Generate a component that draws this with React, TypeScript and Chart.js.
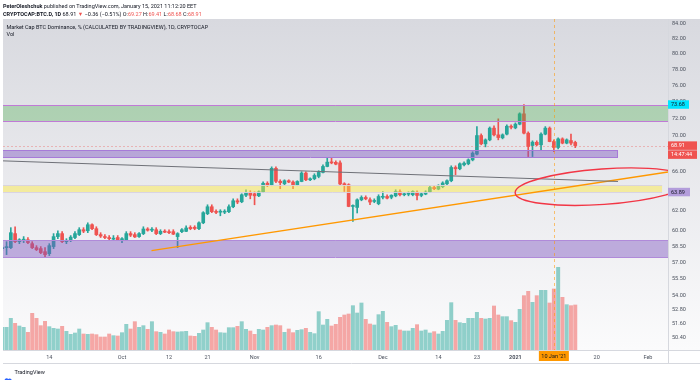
import React, { useEffect, useRef } from "react";
import { Chart, registerables } from "chart.js";

Chart.register(...registerables);

// Daily candles of BTC dominance (%), index 0 = 3 Sep 2020, last = 15 Jan 2021
const opens = [
  58.27, 58.36, 58.36, 59.71, 58.93, 59.03, 59.12, 58.74, 58.36, 58.27,
  57.98, 57.79, 58.46, 59.42, 59.71, 58.93, 59.03, 59.33, 59.61, 60.09,
  59.99, 60.58, 60.19, 59.61, 59.42, 59.33, 59.17, 59.33, 59.07, 59.12,
  59.71, 59.61, 59.42, 59.71, 60.16, 60.04, 60.09, 59.71, 59.95, 59.9,
  59.9, 59.42, 59.9, 59.93, 60.32, 60.33, 60.19, 60.77, 61.68, 62.38,
  61.88, 61.83, 61.83, 61.88, 62.38, 62.99, 62.89, 63.56, 63.82, 63.71,
  63.5, 63.92, 64.81, 64.66, 66.41, 65.02, 64.76, 65.08, 64.94, 64.66,
  65.0, 65.9, 65.18, 65.29, 65.54, 65.97, 66.61, 67.08, 67.06, 67.0,
  64.74, 64.66, 62.41, 62.31, 63.09, 63.33, 63.09, 62.92, 62.69, 63.35,
  63.43, 63.35, 63.5, 63.92, 63.61, 63.66, 63.61, 63.87, 63.54, 63.68,
  63.92, 64.37, 64.2, 64.45, 64.76, 65.08, 66.5, 66.36, 66.79, 66.9,
  67.33, 67.96, 70.05, 69.11, 69.56, 70.9, 70.13, 69.79, 70.21, 71.12,
  70.93, 71.36, 72.57, 70.32, 68.92, 69.28, 69.0, 70.21, 70.9, 69.37,
  68.7, 69.67, 69.19, 69.48, 69.27,
];
const highs = [
  58.55, 58.93, 60.29, 60.38, 59.22, 59.42, 59.33, 58.93, 58.55, 58.46,
  58.36, 58.74, 59.71, 59.99, 59.9, 59.22, 59.52, 59.9, 60.29, 60.29,
  60.77, 60.68, 60.38, 59.8, 59.61, 59.52, 59.52, 59.52, 59.33, 59.9,
  59.9, 59.8, 59.8, 60.38, 60.29, 60.29, 60.29, 60.09, 60.09, 60.09,
  60.09, 59.8, 60.19, 60.48, 60.48, 60.48, 60.87, 61.88, 62.58, 62.58,
  62.08, 62.08, 62.08, 62.58, 63.19, 63.19, 63.71, 64.13, 64.03, 63.92,
  64.03, 64.97, 64.97, 66.57, 66.57, 65.18, 65.18, 65.18, 65.08, 65.08,
  66.04, 66.04, 65.39, 65.82, 66.15, 66.79, 67.51, 67.55, 67.22, 67.22,
  64.87, 64.76, 62.58, 63.19, 63.5, 63.5, 63.3, 63.19, 63.61, 63.95,
  63.61, 63.61, 64.13, 64.13, 63.82, 63.92, 64.03, 64.03, 63.82, 64.03,
  64.55, 64.55, 64.66, 64.97, 65.18, 66.68, 66.68, 67.0, 67.11, 67.44,
  68.22, 71.08, 70.24, 69.67, 71.04, 71.16, 71.98, 70.24, 71.28, 71.28,
  71.51, 72.69, 73.68, 70.47, 69.45, 69.45, 70.36, 71.08, 71.04, 69.56,
  69.79, 69.79, 69.67, 70.21, 69.41,
];
const lows = [
  58.08, 57.7, 58.27, 58.84, 58.74, 58.84, 58.74, 58.27, 58.08, 57.79,
  57.51, 57.61, 58.27, 59.22, 58.84, 58.74, 58.93, 59.22, 59.52, 59.8,
  59.8, 60.09, 59.52, 59.33, 59.22, 59.12, 59.03, 59.03, 58.84, 59.03,
  59.42, 59.33, 59.33, 59.61, 59.95, 59.9, 59.61, 59.61, 59.8, 59.71,
  59.61, 58.36, 59.8, 59.9, 60.09, 60.09, 60.09, 60.68, 61.58, 61.78,
  61.68, 61.47, 61.68, 61.78, 62.28, 62.69, 62.79, 63.4, 63.19, 62.58,
  63.4, 63.82, 64.45, 64.55, 64.87, 64.24, 64.66, 64.87, 64.24, 64.55,
  64.97, 65.08, 65.08, 65.18, 65.39, 65.9, 66.57, 66.9, 66.79, 64.66,
  63.95, 62.38, 60.9, 61.75, 62.99, 63.09, 62.58, 62.79, 62.58, 63.19,
  63.19, 63.19, 63.4, 63.5, 63.5, 63.5, 63.5, 63.09, 63.4, 63.61,
  63.82, 64.13, 64.13, 64.34, 64.66, 64.97, 65.72, 66.25, 66.68, 66.79,
  67.22, 67.88, 69.0, 68.77, 69.45, 70.02, 69.56, 69.67, 70.13, 70.82,
  70.82, 71.28, 70.24, 67.69, 67.69, 68.89, 68.44, 70.13, 69.34, 68.22,
  68.55, 69.11, 69.11, 69.0, 68.68,
];
const closes = [
  58.36, 58.46, 59.8, 58.93, 59.12, 59.17, 58.84, 58.36, 58.17, 57.89,
  57.7, 58.55, 59.42, 59.71, 58.93, 59.07, 59.37, 59.71, 60.09, 59.95,
  60.58, 60.19, 59.61, 59.47, 59.33, 59.22, 59.27, 59.07, 59.22, 59.71,
  59.56, 59.39, 59.71, 60.16, 60.04, 60.14, 59.71, 59.93, 59.85, 59.8,
  59.66, 59.71, 60.09, 60.26, 60.19, 60.21, 60.77, 61.78, 62.38, 61.88,
  61.81, 61.85, 61.88, 62.38, 62.99, 62.86, 63.61, 63.82, 63.56, 63.5,
  63.92, 64.81, 64.66, 66.41, 65.02, 64.87, 65.08, 64.94, 64.66, 65.0,
  65.9, 65.18, 65.29, 65.64, 65.97, 66.61, 67.08, 67.0, 66.86, 64.74,
  64.66, 62.41, 62.51, 63.09, 63.33, 63.19, 62.86, 62.99, 63.43, 63.43,
  63.26, 63.56, 63.95, 63.61, 63.71, 63.79, 63.95, 63.54, 63.71, 63.89,
  64.37, 64.24, 64.48, 64.84, 65.08, 66.5, 66.36, 66.9, 66.97, 67.33,
  68.07, 70.05, 69.11, 69.56, 70.9, 70.13, 69.82, 70.13, 71.12, 71.0,
  71.36, 72.57, 70.32, 68.81, 69.3, 69.0, 70.21, 70.9, 69.37, 68.7,
  69.67, 69.19, 69.56, 69.19, 68.91,
];
const volumes = [
  68, 68, 95, 80, 72, 68, 53, 110, 95, 73,
  86, 70, 65, 63, 71, 56, 47, 51, 63, 48,
  47, 48, 46, 39, 39, 48, 43, 42, 52, 77,
  63, 85, 68, 73, 62, 85, 55, 53, 48, 60,
  55, 54, 55, 56, 42, 41, 50, 60, 82, 68,
  60, 52, 51, 67, 67, 71, 85, 62, 57, 47,
  62, 60, 68, 73, 75, 73, 53, 63, 52, 59,
  61, 65, 53, 49, 115, 75, 92, 72, 77, 98,
  105, 108, 133, 111, 141, 92, 78, 75, 106, 116,
  83, 70, 74, 60, 57, 57, 65, 76, 57, 60,
  51, 55, 48, 56, 89, 142, 89, 82, 80, 95,
  95, 113, 95, 93, 95, 132, 105, 100, 100, 88,
  83, 122, 163, 176, 143, 163, 179, 179, 141, 183,
  248, 158, 136, 133, 135,
];

// Time axis (day index from 3 Sep 2020)
const xMin = 0.17;
const xMax = 155.69;
const xTickIdx = [11, 28, 39, 48, 59, 74, 89, 102, 111, 120, 139, 151];
const xTickLabels = ["14", "Oct", "12", "21", "Nov", "16", "Dec", "14", "23", "2021", "20", "Feb"];
const crosshairIdx = 129;
const crosshairLabel = "10 Jan '21";

// Price axis (log)
const yMin = 49.4;
const yMax = 84.69;
const yTicks = [84, 82, 80, 78, 76, 74, 72, 70, 68, 66, 64, 62, 60, 58.5, 57, 55.5, 54, 52.8, 51.6, 50.4];
const volMax = 993;

// Drawings
const zoneHigh = [73.68, 68.41, 64.58, 59.08];
const zoneLow = [71.71, 67.63, 63.89, 57.51];
const zoneEnd = [155.69, 144.0, 154.3, 155.69];
const grayTrend = [{ x: 0.17, y: 67.22 }, { x: 144.0, y: 65.0 }];
const orangeTrend = [{ x: 34.9, y: 58.08 }, { x: 155.69, y: 66.01 }];
const ellipseCenter = [140.5, 64.45];
const ellipseHalfDays = 20.6;
const ellipseTopPrice = 66.34;
const lastPrice = 68.91;
const lastTime = "14:47:44";
const resistanceTag = 73.68;
const supportTag = 63.89;

const UP = "#26a69a";
const DOWN = "#ef5350";
const FONT = 'Roboto, "Liberation Sans", Arial, sans-serif';
const TXT = "#4c525e";

const N = closes.length;
const days = Array.from({ length: N }, (_, i) => i);
const up = (i: number) => closes[i] >= opens[i];

const zoneFill = ["rgba(76,175,80,0.35)", "rgba(126,87,194,0.45)", "rgba(255,235,59,0.45)", "rgba(126,87,194,0.45)"];
const zoneStroke = ["#c07ad6", "#a77ad8", "rgba(215,210,225,0.9)", "#b08ad9"];
const zoneRightEdge = [false, true, false, false];

const tvPlugin = {
  id: "tvOverlay",
  beforeDraw(chart: any) {
    const { ctx, chartArea: a } = chart;
    ctx.save();
    const g = ctx.createLinearGradient(0, a.top, 0, a.bottom);
    g.addColorStop(0, "#d8d9df");
    g.addColorStop(1, "#fbfbfc");
    ctx.fillStyle = g;
    ctx.fillRect(a.left, a.top, chart.width - a.left, a.bottom - a.top);
    ctx.restore();
  },
  beforeDatasetsDraw(chart: any) {
    chart.$zonesDone = false;
  },
  beforeDatasetDraw(chart: any, args: any) {
    const ds = chart.data.datasets[args.index];
    if (ds.type !== "line" || chart.$zonesDone) return;
    chart.$zonesDone = true;
    const { ctx, chartArea: a, scales } = chart;
    const xs = scales.x, ys = scales.y;
    ctx.save();
    ctx.beginPath();
    ctx.rect(a.left, a.top, a.right - a.left, a.bottom - a.top);
    ctx.clip();
    for (let i = 0; i < zoneHigh.length; i++) {
      const x0 = a.left;
      const x1 = Math.min(a.right, xs.getPixelForValue(zoneEnd[i]));
      const y0 = Math.round(ys.getPixelForValue(zoneHigh[i]));
      const y1 = Math.round(ys.getPixelForValue(zoneLow[i]));
      ctx.fillStyle = zoneFill[i];
      ctx.fillRect(x0, y0, x1 - x0, y1 - y0);
      ctx.strokeStyle = zoneStroke[i];
      ctx.lineWidth = 1;
      ctx.beginPath();
      ctx.moveTo(x0, y0 + 0.5);
      ctx.lineTo(x1, y0 + 0.5);
      ctx.moveTo(x0, y1 + 0.5);
      ctx.lineTo(x1, y1 + 0.5);
      if (zoneRightEdge[i]) {
        ctx.moveTo(Math.round(x1) - 0.5, y0 + 0.5);
        ctx.lineTo(Math.round(x1) - 0.5, y1 + 0.5);
      }
      ctx.stroke();
    }
    ctx.restore();
  },
  afterDatasetsDraw(chart: any) {
    const { ctx, chartArea: a, scales } = chart;
    const xs = scales.x, ys = scales.y;
    ctx.save();
    ctx.beginPath();
    ctx.rect(a.left, a.top, a.right - a.left, a.bottom - a.top);
    ctx.clip();
    // last price line
    const ly = Math.round(ys.getPixelForValue(lastPrice)) + 0.5;
    ctx.strokeStyle = "rgba(239,83,80,0.35)";
    ctx.lineWidth = 1;
    ctx.setLineDash([2, 2]);
    ctx.beginPath();
    ctx.moveTo(a.left, ly);
    ctx.lineTo(a.right, ly);
    ctx.stroke();
    // crosshair
    const cx = Math.round(xs.getPixelForValue(crosshairIdx)) + 0.5;
    ctx.strokeStyle = "rgba(255,152,0,0.55)";
    ctx.setLineDash([3, 3]);
    ctx.beginPath();
    ctx.moveTo(cx, a.top);
    ctx.lineTo(cx, a.bottom);
    ctx.stroke();
    ctx.setLineDash([]);
    // ellipse
    const ex = xs.getPixelForValue(ellipseCenter[0]);
    const ey = ys.getPixelForValue(ellipseCenter[1]);
    const rx = xs.getPixelForValue(ellipseCenter[0] + ellipseHalfDays) - ex;
    const ry = ey - ys.getPixelForValue(ellipseTopPrice);
    ctx.strokeStyle = "#f23645";
    ctx.lineWidth = 1.4;
    ctx.beginPath();
    ctx.ellipse(ex, ey, rx, ry, (-4 * Math.PI) / 180, 0, Math.PI * 2);
    ctx.stroke();
    ctx.restore();
  },
  afterDraw(chart: any) {
    const { ctx, chartArea: a, scales } = chart;
    const xs = scales.x, ys = scales.y;
    ctx.save();
    ctx.strokeStyle = "#d6d8de";
    ctx.lineWidth = 1;
    ctx.beginPath();
    ctx.moveTo(a.left, a.bottom + 0.5);
    ctx.lineTo(chart.width, a.bottom + 0.5);
    ctx.moveTo(a.left, a.bottom + 13.5);
    ctx.lineTo(chart.width, a.bottom + 13.5);
    ctx.moveTo(a.right + 0.5, a.top);
    ctx.lineTo(a.right + 0.5, a.bottom + 13);
    ctx.stroke();

    const tag = (y: number, text: string, bg: string, fg: string, w: number) => {
      const h = 8.5;
      ctx.fillStyle = bg;
      ctx.fillRect(a.right, y - h / 2, w, h);
      ctx.fillStyle = fg;
      ctx.font = `5.5px ${FONT}`;
      ctx.textBaseline = "middle";
      ctx.textAlign = "left";
      ctx.fillText(text, a.right + 3, y + 0.3);
    };
    tag(ys.getPixelForValue(resistanceTag), resistanceTag.toFixed(2), "#00e5ff", "#131722", 21);
    const ly = ys.getPixelForValue(lastPrice);
    tag(ly, lastPrice.toFixed(2), "#ef5350", "#ffffff", 29);
    tag(ly + 9, lastTime, "#ef5350", "#ffffff", 29);
    tag(ys.getPixelForValue(supportTag), supportTag.toFixed(2), "#b39ddb", "#131722", 22);

    // crosshair time label
    const cx = xs.getPixelForValue(crosshairIdx);
    ctx.fillStyle = "#ff9800";
    ctx.fillRect(cx - 15, a.bottom + 1, 30, 10);
    ctx.fillStyle = "#131722";
    ctx.font = `5.5px ${FONT}`;
    ctx.textAlign = "center";
    ctx.textBaseline = "middle";
    ctx.fillText(crosshairLabel, cx, a.bottom + 6.3);
    ctx.restore();
  },
};

export default function App() {
  const ref = useRef<HTMLCanvasElement>(null);

  useEffect(() => {
    const canvas = ref.current;
    if (!canvas) return;
    const chart = new Chart(canvas, {
      type: "bar",
      data: {
        datasets: [
          {
            type: "line",
            data: grayTrend,
            borderColor: "#6f7178",
            borderWidth: 1,
            pointRadius: 0,
            yAxisID: "y",
            order: 0,
          },
          {
            type: "line",
            data: orangeTrend,
            borderColor: "#ff9800",
            borderWidth: 1.3,
            pointRadius: 0,
            yAxisID: "y",
            order: 0,
          },
          {
            type: "bar",
            data: days.map((i) => ({ x: i, y: [opens[i], closes[i]] })),
            backgroundColor: days.map((i) => (up(i) ? UP : DOWN)),
            barThickness: 3,
            minBarLength: 1,
            grouped: false,
            yAxisID: "y",
            order: 1,
          },
          {
            type: "bar",
            data: days.map((i) => ({ x: i, y: [lows[i], highs[i]] })),
            backgroundColor: days.map((i) => (up(i) ? UP : DOWN)),
            barThickness: 1,
            grouped: false,
            yAxisID: "y",
            order: 2,
          },
          {
            type: "bar",
            data: days.map((i) => ({ x: i, y: volumes[i] })),
            backgroundColor: days.map((i) => (up(i) ? "rgba(38,166,154,0.5)" : "rgba(239,83,80,0.5)")),
            barThickness: 3.3,
            grouped: false,
            yAxisID: "yv",
            order: 3,
          },
        ] as any,
      },
      options: {
        responsive: false,
        animation: false,
        devicePixelRatio: 1,
        events: [],
        layout: { padding: { top: 19, left: 3, right: 0, bottom: 0 } },
        plugins: { legend: { display: false }, tooltip: { enabled: false } },
        scales: {
          x: {
            type: "linear",
            min: xMin,
            max: xMax,
            offset: false,
            grid: { display: false, drawTicks: false },
            border: { display: false },
            afterBuildTicks: (s: any) => {
              s.ticks = xTickIdx.map((v) => ({ value: v }));
            },
            afterFit: (s: any) => {
              s.height = 30;
            },
            ticks: {
              autoSkip: false,
              maxRotation: 0,
              padding: 4,
              color: TXT,
              font: (c: any) => ({
                family: FONT,
                size: 5.5,
                weight: c.tick && c.tick.value === 120 ? "bold" : "normal",
              }),
              callback: (v: any) => {
                const k = xTickIdx.indexOf(Number(v));
                return k >= 0 ? xTickLabels[k] : "";
              },
            },
          },
          y: {
            type: "logarithmic",
            position: "right",
            min: yMin,
            max: yMax,
            grid: { display: false, drawTicks: false },
            border: { display: false },
            afterBuildTicks: (s: any) => {
              s.ticks = yTicks.map((v) => ({ value: v }));
            },
            afterFit: (s: any) => {
              s.width = 32;
            },
            ticks: {
              autoSkip: false,
              padding: 4,
              color: TXT,
              font: { family: FONT, size: 5.5 },
              callback: (v: any) => Number(v).toFixed(2),
            },
          },
          yv: {
            type: "linear",
            display: false,
            min: 0,
            max: volMax,
          },
        },
      } as any,
      plugins: [tvPlugin as any],
    });
    return () => chart.destroy();
  }, []);

  const small: React.CSSProperties = {
    position: "absolute",
    fontSize: "5.5px",
    lineHeight: "6px",
    whiteSpace: "nowrap",
    color: "#131722",
    fontFamily: FONT,
  };
  const red = { color: "#ef5350" };

  return (
    <div
      style={{
        position: "fixed",
        left: 0,
        top: 0,
        width: 700,
        height: 380,
        background: "#ffffff",
        overflow: "hidden",
      }}
    >
      <canvas ref={ref} width={700} height={380} style={{ position: "absolute", left: 0, top: 0, width: 700, height: 380 }} />
      <div style={{ ...small, left: 3, top: 2.7 }}>
        <b>PeterOleshchuk</b> published on TradingView.com, January 15, 2021 11:12:20 EET
      </div>
      <div style={{ ...small, left: 3, top: 11 }}>
        <b>CRYPTOCAP:BTC.D, 1D</b> 68.91 <span style={red}>▼</span> −0.36 (−0.51%) O:<span style={red}>69.27</span> H:
        <span style={red}>69.41</span> L:<span style={red}>68.68</span> C:<span style={red}>68.91</span>
      </div>
      <div style={{ ...small, left: 6.5, top: 24.3 }}>
        Market Cap BTC Dominance, % (CALCULATED BY TRADINGVIEW), 1D, CRYPTOCAP
      </div>
      <div style={{ ...small, left: 6.5, top: 30.8 }}>Vol</div>
      <div style={{ position: "absolute", left: 3, top: 369, width: 10, height: 5 }}>
        <svg width="10" height="6" viewBox="0 0 10 6">
          <path d="M1 5.5 C0 5.5 0 3.2 1.6 3.2 C1.8 1.4 4 0.6 5.2 2 C6.4 0.8 9 1.6 8.6 3.6 C10 3.8 10 5.5 8.8 5.5 Z" fill="#2962ff" />
        </svg>
      </div>
      <div style={{ ...small, left: 14.5, top: 369, color: "#131722" }}>TradingView</div>
    </div>
  );
}
